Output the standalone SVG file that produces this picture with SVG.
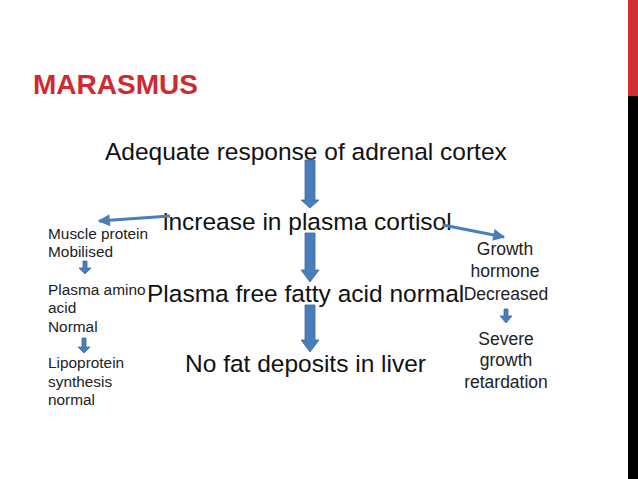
<svg xmlns="http://www.w3.org/2000/svg" width="638" height="479" viewBox="0 0 638 479">
<defs>
<style>
.big{font-family:"Liberation Sans",Arial,sans-serif;font-size:24.5px;fill:#111}
.sl{font-family:"Liberation Sans",Arial,sans-serif;font-size:15.4px;fill:#222}
.sr{font-family:"Liberation Sans",Arial,sans-serif;font-size:17.5px;fill:#222;text-anchor:middle}
.blk{fill:#4a7ebb;stroke:#3d6a9f;stroke-width:0.8}
.thin{stroke:#4a7ebb;stroke-width:3;fill:none}
</style>
<marker id="ah" viewBox="0 0 10 10" refX="9" refY="5" markerWidth="5" markerHeight="4" orient="auto" markerUnits="strokeWidth">
<path d="M0,0 L10,5 L0,10 Z" fill="#4a7ebb"/>
</marker>
</defs>
<rect width="638" height="479" fill="#fff"/>
<rect x="628" y="0" width="10" height="96" fill="#d32f32"/>
<rect x="628" y="96" width="10" height="383" fill="#000"/>
<text x="33" y="94" font-family="Liberation Sans,Arial,sans-serif" font-weight="bold" font-size="28" fill="#cf2a30">MARASMUS</text>
<g id="n1"><text class="big" x="105" y="160">Adequate response of adrenal cortex</text></g>
<g id="n2"><text class="big" x="163" y="230">increase in plasma cortisol</text></g>
<g id="n3"><text class="big" x="147" y="302">Plasma free fatty acid normal</text></g>
<g id="n4"><text class="big" x="185" y="372">No fat deposits in liver</text></g>
<g id="l1"><text class="sl" x="48" y="239">Muscle protein</text><text class="sl" x="48" y="257">Mobilised</text></g>
<g id="l2"><text class="sl" x="48" y="295">Plasma amino</text><text class="sl" x="48" y="313">acid</text><text class="sl" x="48" y="332">Normal</text></g>
<g id="l3"><text class="sl" x="48" y="368">Lipoprotein</text><text class="sl" x="48" y="387">synthesis</text><text class="sl" x="48" y="405">normal</text></g>
<g id="r1"><text class="sr" x="505" y="255">Growth</text><text class="sr" x="505" y="277">hormone</text><text class="sr" x="506" y="300">Decreased</text></g>
<g id="r2"><text class="sr" x="506" y="345">Severe</text><text class="sr" x="506" y="366">growth</text><text class="sr" x="506" y="388">retardation</text></g>
<g id="connectors">
<path class="blk" d="M305,160 H315 V200 H319 L310,208 L301,200 H305 Z"/>
<path class="blk" d="M305,233 H315 V270 H319 L310,282 L301,270 H305 Z"/>
<path class="blk" d="M305,305 H315 V340 H319 L310,352 L301,340 H305 Z"/>
<path class="blk" d="M83,261 H87 V268 H91 L85,274 L79,268 H83 Z"/>
<path class="blk" d="M82,338 H86 V347 H90 L84,353 L78,347 H82 Z"/>
<path class="blk" d="M504,309 H508 V316 H512 L506,323 L500,316 H504 Z"/>
<line class="thin" x1="170" y1="216" x2="99" y2="221" marker-end="url(#ah)"/>
<line class="thin" x1="443" y1="225" x2="504" y2="237" marker-end="url(#ah)"/>
</g>
</svg>
